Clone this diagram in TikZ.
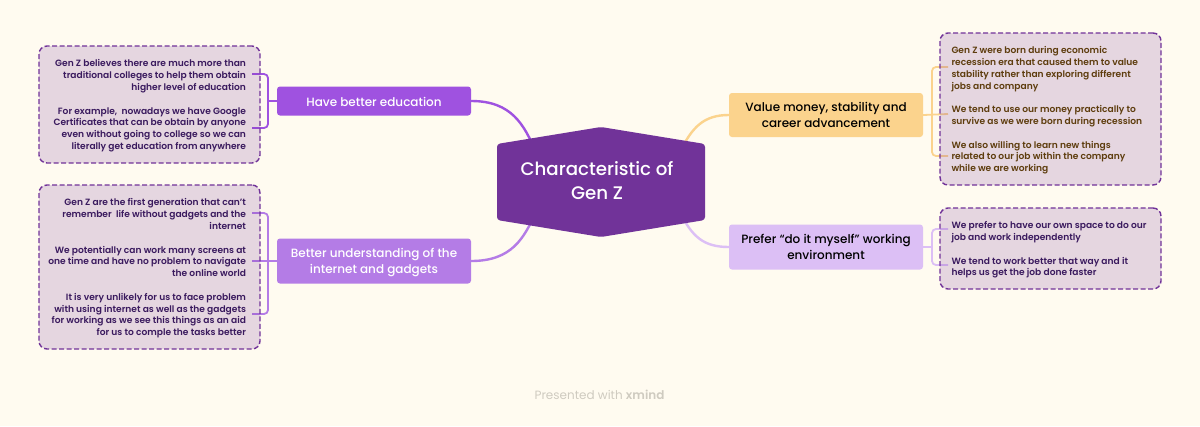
\documentclass[tikz,border=0pt]{standalone}
\usepackage{fontspec}
\setmainfont{Poppins}[BoldFont=* SemiBold]
\newfontfamily\midfont{Poppins Medium}
\usetikzlibrary{backgrounds}
\definecolor{paper}{HTML}{FFFBF0}
\definecolor{rootcol}{HTML}{713399}
\definecolor{educol}{HTML}{9F52E0}
\definecolor{netcol}{HTML}{B47CE6}
\definecolor{moneycol}{HTML}{FBD38D}
\definecolor{selfcol}{HTML}{DCBFF5}
\definecolor{noteink}{HTML}{3A1A5E}
\definecolor{browink}{HTML}{5E3D0E}
\definecolor{footcol}{HTML}{CFCBC0}
\tikzset{
  topic/.style={rounded corners=3pt,minimum width=194pt,align=center,inner sep=0pt,font=\midfont\fontsize{12}{16}\selectfont},
  note/.style={draw=rootcol,dash pattern=on 5pt off 2.5pt,line width=1.4pt,fill=rootcol,fill opacity=.18,text opacity=1,
    rounded corners=8pt,minimum width=221pt,text width=193pt,inner xsep=14pt,inner ysep=0pt,
    execute at begin node=\rule{0pt}{10pt},
    font=\fontsize{9.1}{11.8}\selectfont\bfseries},
  link/.style={line width=2.4pt},
  brace/.style={line width=1.8pt,rounded corners=4pt},
}
\begin{document}
\begin{tikzpicture}[x=1pt,y=-1pt]
  \useasboundingbox (0,0) rectangle (1200,426);
  \node (root) at (597,181) [minimum width=208pt,minimum height=110pt,align=center,text=white,
    font=\midfont\fontsize{18.2}{24}\selectfont] {Characteristic of\\Gen Z};
  \node (edu) at (374,101) [topic,fill=educol,text=white,minimum height=29pt] {\rule{0pt}{11pt}Have better education};
  \node (net) at (374,261) [topic,fill=netcol,text=white,minimum height=45pt] {\rule{0pt}{13pt}Better understanding of the\\internet and gadgets};
  \node (money) at (826,115) [topic,fill=moneycol,text=black,minimum height=44pt] {Value money, stability and\\career advancement};
  \node (self) at (826,247) [topic,fill=selfcol,text=black,minimum height=45pt] {Prefer “do it myself” working\\environment};
  \node (edunote) at (149.5,104.5) [note,align=flush right,text=noteink,minimum height=117pt] {Gen Z believes there are much more than\\
    traditional colleges to help them obtain\\higher level of education\hspace*{3pt}\\[11.8pt]
    For example,\ \ nowadays we have Google\\Certificates that can be obtain by anyone\\
    even without going to college so we can\\literally get education from anywhere};
  \node (netnote) at (149.5,267) [note,align=flush right,text=noteink,minimum height=164pt] {Gen Z are the first generation that can’t\\
    remember\ \ life without gadgets and the\\internet\\[11.8pt]
    We potentially can work many screens at\\\hspace*{-8pt}one time and have no problem to navigate\\the online world\\[11.8pt]
    It is very unlikely for us to face problem\\with using internet as well as the gadgets\\
    \hspace*{-8pt}for working as we see this things as an aid\\for us to comple the tasks better};
  \node (moneynote) at (1050.5,109) [note,align=flush left,text=browink,minimum height=152pt,text width=198pt,inner xsep=11.5pt] {Gen Z were born during economic\\
    recession era that caused them to value\\stability rather than exploring different\\jobs and company\\[11.8pt]
    We tend to use our money practically to\\survive as we were born during recession\\[11.8pt]
    We also willing to learn new things\\related to our job within the company\\while we are working};
  \node (selfnote) at (1050.5,248.5) [note,align=flush left,text=noteink,minimum height=81pt,text width=198pt,inner xsep=11.5pt] {We prefer to have our own space to do our\\
    job and work independently\\[11.8pt]
    We tend to work better that way and it\\helps us get the job done faster};
  \node (foot) at (599.5,395) [text=footcol,font=\fontsize{12}{14}\selectfont] {Presented with \textbf{xmind}};
  \coordinate (rootnw) at (536,152);
  \coordinate (rootsw) at (536,212);
  \coordinate (rootne) at (680,152);
  \coordinate (rootse) at (680,212);
  \coordinate (edujoin) at (268,101);
  \coordinate (edu1) at (252,74);
  \coordinate (edu2) at (252,128);
  \coordinate (netjoin) at (268,261);
  \coordinate (net1) at (252,213);
  \coordinate (net2) at (252,261);
  \coordinate (net3) at (252,314);
  \coordinate (moneyjoin) at (932,114);
  \coordinate (money1) at (948,67);
  \coordinate (money2) at (948,114);
  \coordinate (money3) at (948,156);
  \coordinate (selfjoin) at (932,247);
  \coordinate (self1) at (948,229);
  \coordinate (self2) at (948,265);
  \begin{pgfonlayer}{background}
    \fill[paper] (0,0) rectangle (1200,426);
    % branches from the centre
    \draw[link,educol] (edu.east) .. controls (512,101) and (524,125) .. (rootnw);
    \draw[link,netcol] (net.east) .. controls (512,261) and (524,238) .. (rootsw);
    \draw[link,moneycol] (money.west) .. controls (704,115) and (692,127) .. (rootne);
    \draw[link,selfcol] (self.west) .. controls (704,247) and (692,237) .. (rootse);
    % brackets to the notes
    \draw[brace,educol] (edu.west) -- (edujoin);
    \draw[brace,educol] (edu1) -| (edujoin) |- (edu2);
    \draw[brace,netcol] (net.west) -- (net2);
    \draw[brace,netcol] (net1) -| (netjoin) |- (net3);
    \draw[brace,moneycol] (money.east) -- (money2);
    \draw[brace,moneycol] (money1) -| (moneyjoin) |- (money3);
    \draw[brace,selfcol] (self.east) -- (selfjoin);
    \draw[brace,selfcol] (self1) -| (selfjoin) |- (self2);
    \fill[rootcol,rounded corners=3pt] (497,144) -- (601,127) -- (705,144) -- (705,220) -- (601,237) -- (497,220) -- cycle;
  \end{pgfonlayer}
\end{tikzpicture}
\end{document}
